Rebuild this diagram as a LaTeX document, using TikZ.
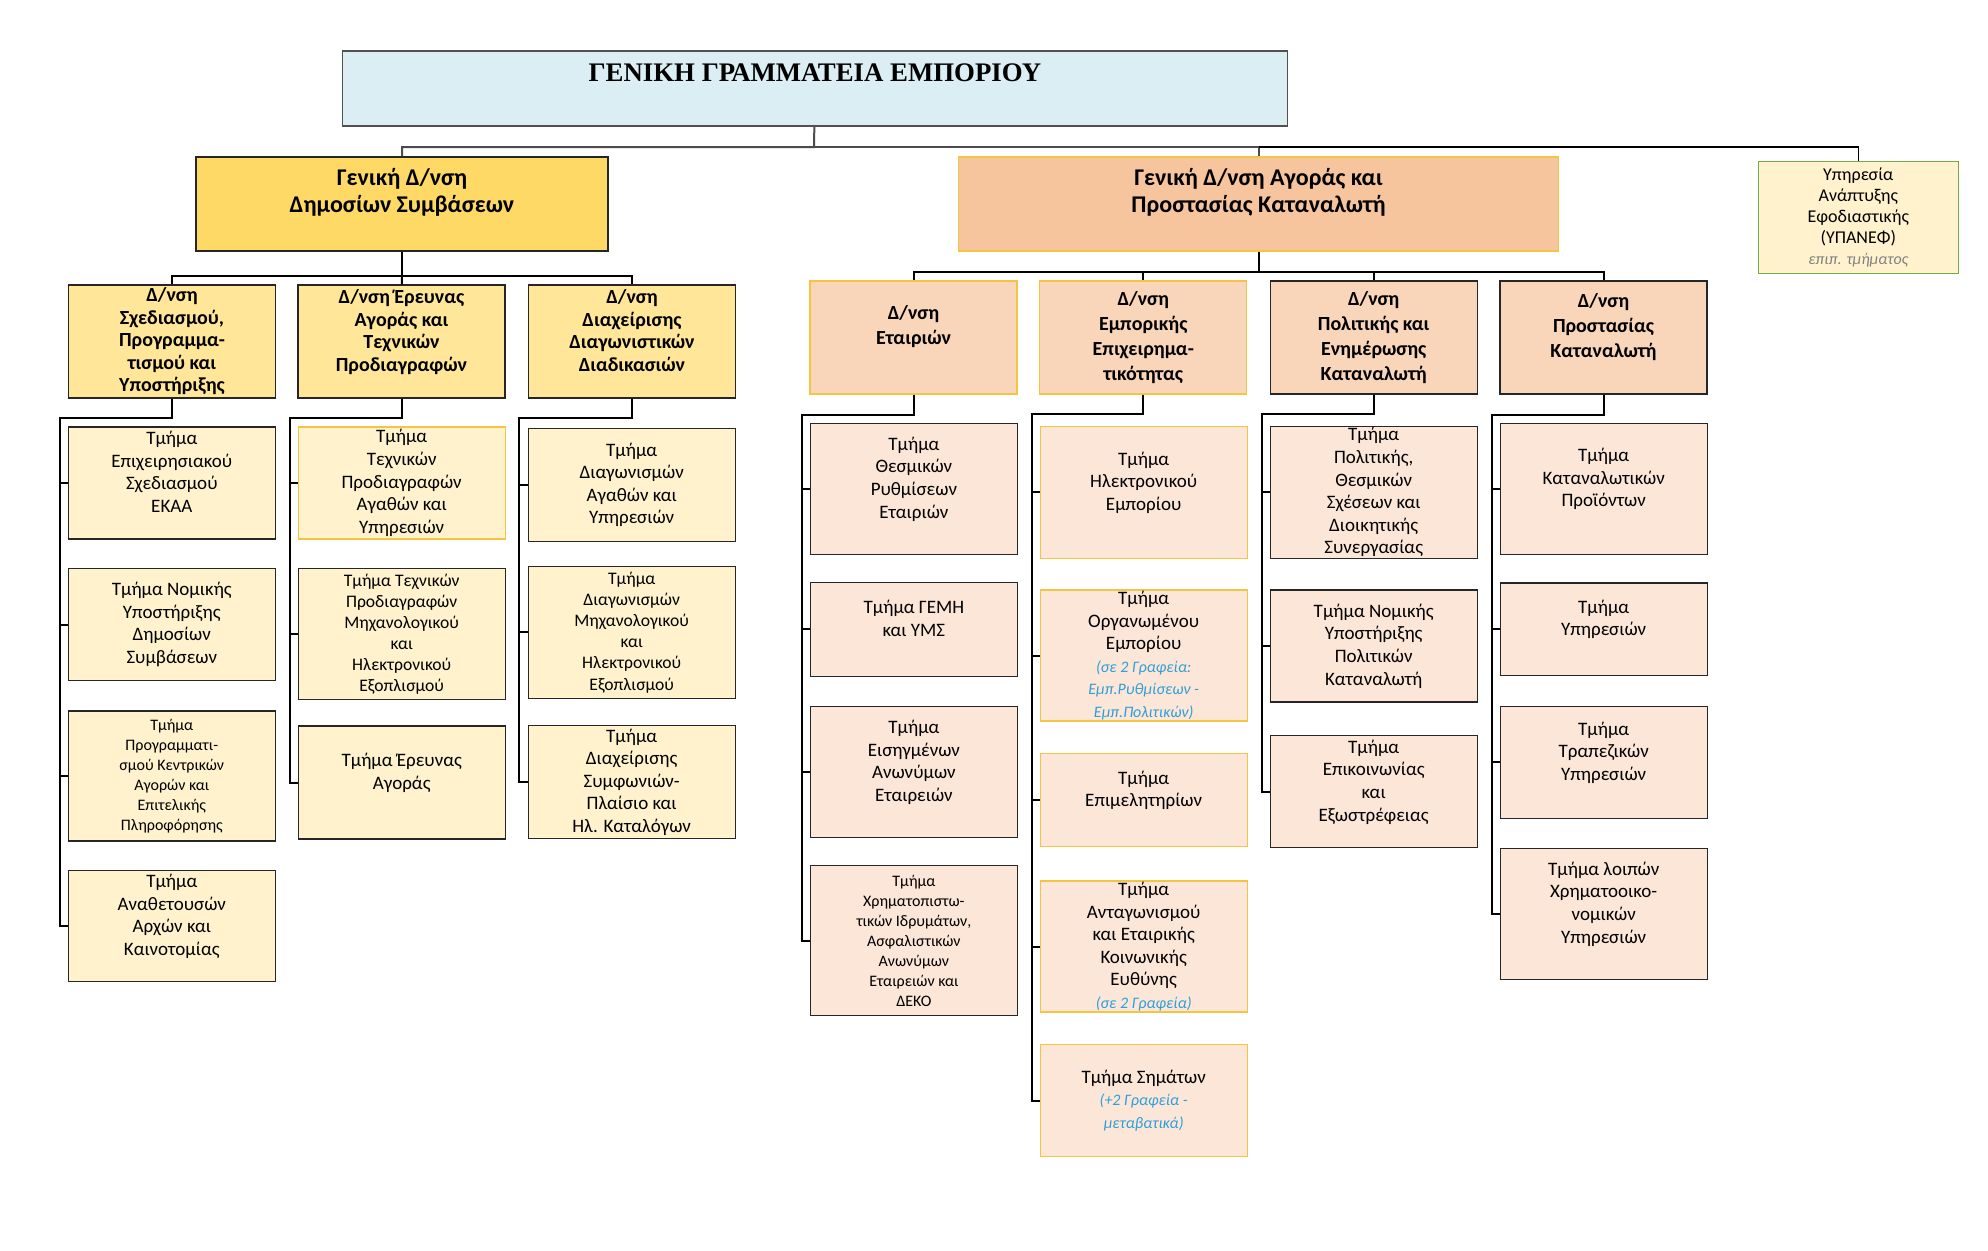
\documentclass[tikz,border=0pt]{standalone}
\usepackage{fontspec}
\setmainfont{Carlito}
\newfontfamily\titlefont{Liberation Serif}

\definecolor{titlebg}{HTML}{DAEEF3}
\definecolor{gdgold}{HTML}{FFD966}
\definecolor{dgold}{HTML}{FFE699}
\definecolor{tgold}{HTML}{FFF2CC}
\definecolor{gdpeach}{HTML}{F6C49D}
\definecolor{dpeach}{HTML}{F9D5B9}
\definecolor{tpeach}{HTML}{FBE6D7}
\definecolor{goldline}{HTML}{F4C542}
\definecolor{boxline}{HTML}{262626}
\definecolor{greenline}{HTML}{70AD47}
\definecolor{noteblue}{HTML}{2E9FD8}

\newcommand{\bluenote}[1]{{\color{noteblue}\itshape\fontsize{8}{9.75}\selectfont #1}}

\tikzset{
  every node/.style={align=center, inner sep=0pt},
  ttl/.style={draw=boxline!80, line width=0.8pt, fill=titlebg, minimum width=472.5pt, minimum height=37.6pt,
    font=\titlefont\bfseries\fontsize{13.4}{16}\selectfont},
  gdir/.style={draw=boxline, line width=0.6pt, minimum height=47pt, font=\bfseries\fontsize{12}{13.5}\selectfont},
  dir/.style={draw=boxline, line width=0.6pt, minimum width=103.5pt, minimum height=56.5pt,
    font=\bfseries\fontsize{10}{11.25}\selectfont},
  dept/.style={draw=boxline, line width=0.6pt, minimum width=103.5pt, font=\fontsize{9.5}{11.3}\selectfont},
  srv/.style={draw=greenline, line width=0.6pt, fill=tgold, minimum width=100pt, minimum height=55.8pt,
    font=\fontsize{9}{10.5}\selectfont},
  conn/.style={line width=1pt, black},
  topconn/.style={line width=1pt, black!70},
  thinconn/.style={line width=0.6pt, black}
}

\begin{document}
\begin{tikzpicture}[x=0.5pt, y=-0.5pt]
  \fill[white] (0,0) rectangle (1988,1250);

  \node[ttl] (gg) at (815,88.4) {ΓΕΝΙΚΗ ΓΡΑΜΜΑΤΕΙΑ ΕΜΠΟΡΙΟΥ\\~};
  \node[gdir, fill=gdgold, minimum width=206pt] (gdds) at (402,204) {Γενική Δ/νση\\Δημοσίων Συμβάσεων\\~};
  \node[gdir, fill=gdpeach, draw=goldline, minimum width=300pt] (gdak) at (1258.5,204) {Γενική Δ/νση Αγοράς και\\Προστασίας Καταναλωτή\\~};
  \node[srv] (ypanef) at (1858.3,217.5) {Υπηρεσία\\Ανάπτυξης\\Εφοδιαστικής\\(ΥΠΑΝΕΦ)\\{\color{gray}\itshape\fontsize{8}{10.5}\selectfont επιπ. τμήματος}};

  \node[dir, fill=dgold] (ds1) at (172,341.5) {Δ/νση\\Σχεδιασμού,\\Προγραμμα-\\τισμού και\\Υποστήριξης};
  \node[dir, fill=dgold] (ds2) at (401.5,341.5) {Δ/νση Έρευνας\\Αγοράς και\\Τεχνικών\\Προδιαγραφών\\~};
  \node[dir, fill=dgold] (ds3) at (632,341.5) {Δ/νση\\Διαχείρισης\\Διαγωνιστικών\\Διαδικασιών\\~};

  \node[dir, fill=dpeach, draw=goldline, font=\bfseries\fontsize{10}{12.5}\selectfont] (da1) at (913.5,337.5) {Δ/νση\\Εταιριών\\~};
  \node[dir, fill=dpeach, draw=goldline, font=\bfseries\fontsize{10}{12.5}\selectfont] (da2) at (1143.3,337.5) {Δ/νση\\Εμπορικής\\Επιχειρημα-\\τικότητας};
  \node[dir, fill=dpeach, font=\bfseries\fontsize{10}{12.5}\selectfont] (da3) at (1373.7,337.5) {Δ/νση\\Πολιτικής και\\Ενημέρωσης\\Καταναλωτή};
  \node[dir, fill=dpeach, font=\bfseries\fontsize{10}{12.5}\selectfont] (da4) at (1603.5,337.5) {Δ/νση\\Προστασίας\\Καταναλωτή\\~};

  \node[dept, fill=tgold, minimum height=56pt] (t11) at (171.8,482.9) {Τμήμα\\Επιχειρησιακού\\Σχεδιασμού\\ΕΚΑΑ\\~};
  \node[dept, fill=tgold, minimum height=56pt] (t12) at (171.8,624.5) {Τμήμα Νομικής\\Υποστήριξης\\Δημοσίων\\Συμβάσεων};
  \node[dept, fill=tgold, minimum height=65pt, font=\fontsize{8}{10}\selectfont] (t13) at (171.8,775.9) {Τμήμα\\Προγραμματι-\\σμού Κεντρικών\\Αγορών και\\Επιτελικής\\Πληροφόρησης};
  \node[dept, fill=tgold, minimum height=55.8pt] (t14) at (171.8,925.9) {Τμήμα\\Αναθετουσών\\Αρχών και\\Καινοτομίας\\~};

  \node[dept, fill=tgold, draw=goldline, minimum height=56pt] (t21) at (401.7,482.9) {Τμήμα\\Τεχνικών\\Προδιαγραφών\\Αγαθών και\\Υπηρεσιών};
  \node[dept, fill=tgold, minimum height=65.6pt, font=\fontsize{8.8}{10.5}\selectfont] (t22) at (401.7,634) {Τμήμα Τεχνικών\\Προδιαγραφών\\Μηχανολογικού\\και\\Ηλεκτρονικού\\Εξοπλισμού};
  \node[dept, fill=tgold, minimum height=56.5pt] (t23) at (401.7,782.5) {Τμήμα Έρευνας\\Αγοράς\\~};

  \node[dept, fill=tgold, minimum height=56.3pt] (t31) at (631.7,484.9) {Τμήμα\\Διαγωνισμών\\Αγαθών και\\Υπηρεσιών};
  \node[dept, fill=tgold, minimum height=66pt, font=\fontsize{8.8}{10.6}\selectfont] (t32) at (631.7,632.4) {Τμήμα\\Διαγωνισμών\\Μηχανολογικού\\και\\Ηλεκτρονικού\\Εξοπλισμού};
  \node[dept, fill=tgold, minimum height=56.5pt] (t33) at (631.7,782.2) {Τμήμα\\Διαχείρισης\\Συμφωνιών-\\Πλαίσιο και\\Ηλ. Καταλόγων};

  \node[dept, fill=tpeach, minimum height=65.5pt] (t41) at (913.9,488.8) {Τμήμα\\Θεσμικών\\Ρυθμίσεων\\Εταιριών\\~};
  \node[dept, fill=tpeach, minimum height=47pt] (t42) at (913.9,629.4) {Τμήμα ΓΕΜΗ\\και ΥΜΣ\\~};
  \node[dept, fill=tpeach, minimum height=65.5pt] (t43) at (913.9,772) {Τμήμα\\Εισηγμένων\\Ανωνύμων\\Εταιρειών\\~};
  \node[dept, fill=tpeach, minimum height=75pt, font=\fontsize{8}{10}\selectfont] (t44) at (913.9,940.6) {Τμήμα\\Χρηματοπιστω-\\τικών Ιδρυμάτων,\\Ασφαλιστικών\\Ανωνύμων\\Εταιρειών και\\ΔΕΚΟ};

  \node[dept, fill=tpeach, draw=goldline, minimum height=66pt] (t51) at (1143.7,492.3) {Τμήμα\\Ηλεκτρονικού\\Εμπορίου\\~};
  \node[dept, fill=tpeach, draw=goldline, minimum height=65.5pt] (t52) at (1143.7,655.5) {Τμήμα\\Οργανωμένου\\Εμπορίου\\\bluenote{(σε 2 Γραφεία:}\\\bluenote{Εμπ.Ρυθμίσεων -}\\\bluenote{Εμπ.Πολιτικών)}};
  \node[dept, fill=tpeach, draw=goldline, minimum height=46.5pt] (t53) at (1143.7,800.2) {Τμήμα\\Επιμελητηρίων\\~};
  \node[dept, fill=tpeach, draw=goldline, minimum height=65.5pt] (t54) at (1143.7,946.5) {Τμήμα\\Ανταγωνισμού\\και Εταιρικής\\Κοινωνικής\\Ευθύνης\\\bluenote{(σε 2 Γραφεία)}};
  \node[dept, fill=tpeach, draw=goldline, minimum height=55.7pt] (t55) at (1143.7,1100.5) {Τμήμα Σημάτων\\\bluenote{(+2 Γραφεία -}\\\bluenote{μεταβατικά)}};

  \node[dept, fill=tpeach, minimum height=66pt] (t61) at (1373.7,492.3) {Τμήμα\\Πολιτικής,\\Θεσμικών\\Σχέσεων και\\Διοικητικής\\Συνεργασίας};
  \node[dept, fill=tpeach, minimum height=56pt] (t62) at (1373.7,646) {Τμήμα Νομικής\\Υποστήριξης\\Πολιτικών\\Καταναλωτή};
  \node[dept, fill=tpeach, minimum height=56pt] (t63) at (1373.7,791.8) {Τμήμα\\Επικοινωνίας\\και\\Εξωστρέφειας\\~};

  \node[dept, fill=tpeach, minimum height=65.5pt] (t71) at (1603.7,488.6) {Τμήμα\\Καταναλωτικών\\Προϊόντων\\~};
  \node[dept, fill=tpeach, minimum height=46.3pt] (t72) at (1603.7,629.2) {Τμήμα\\Υπηρεσιών\\~};
  \node[dept, fill=tpeach, minimum height=56pt] (t73) at (1603.7,762.3) {Τμήμα\\Τραπεζικών\\Υπηρεσιών\\~};
  \node[dept, fill=tpeach, minimum height=65.3pt] (t74) at (1603.7,913.8) {Τμήμα λοιπών\\Χρηματοοικο-\\νομικών\\Υπηρεσιών\\~};

  \coordinate (bus) at (814,147);
  \coordinate (bus1) at (402,276);
  \coordinate (bus2) at (1258.5,272);

  \draw[topconn] (gg) -- (bus) -| (gdds);
  \draw[topconn] (bus) -| (gdak);
  \draw[thinconn] (gdak |- bus) -| (ypanef);

  \draw[conn] (gdds) -- (bus1) -| (ds1);
  \draw[conn] (bus1) -| (ds3);
  \draw[conn] (bus1) -- (ds2);

  \draw[conn] (gdak) -- (bus2) -| (da1);
  \draw[conn] (bus2) -| (da4);
  \draw[conn] (da2 |- bus2) -- (da2);
  \draw[conn] (da3 |- bus2) -- (da3);

  \coordinate (c1) at (60,418);
  \coordinate (c2) at (290,418);
  \coordinate (c3) at (519.3,418.4);
  \coordinate (c4) at (802,414.7);
  \coordinate (c5) at (1031.7,414);
  \coordinate (c6) at (1261.7,414);
  \coordinate (c7) at (1491.7,415.3);

  \draw[conn] (ds1) |- (c1) |- (t14);
  \draw[conn] (t11 -| c1) -- (t11);
  \draw[conn] (t12 -| c1) -- (t12);
  \draw[conn] (t13 -| c1) -- (t13);

  \draw[conn] (ds2) |- (c2) |- (t23);
  \draw[conn] (t21 -| c2) -- (t21);
  \draw[conn] (t22 -| c2) -- (t22);

  \draw[conn] (ds3) |- (c3) |- (t33);
  \draw[conn] (t31 -| c3) -- (t31);
  \draw[conn] (t32 -| c3) -- (t32);

  \draw[conn] (da1) |- (c4) |- (t44);
  \draw[conn] (t41 -| c4) -- (t41);
  \draw[conn] (t42 -| c4) -- (t42);
  \draw[conn] (t43 -| c4) -- (t43);

  \draw[conn] (da2) |- (c5) |- (t55);
  \draw[conn] (t51 -| c5) -- (t51);
  \draw[conn] (t52 -| c5) -- (t52);
  \draw[conn] (t53 -| c5) -- (t53);
  \draw[conn] (t54 -| c5) -- (t54);

  \draw[conn] (da3) |- (c6) |- (t63);
  \draw[conn] (t61 -| c6) -- (t61);
  \draw[conn] (t62 -| c6) -- (t62);

  \draw[conn] (da4) |- (c7) |- (t74);
  \draw[conn] (t71 -| c7) -- (t71);
  \draw[conn] (t72 -| c7) -- (t72);
  \draw[conn] (t73 -| c7) -- (t73);

\end{tikzpicture}
\end{document}
